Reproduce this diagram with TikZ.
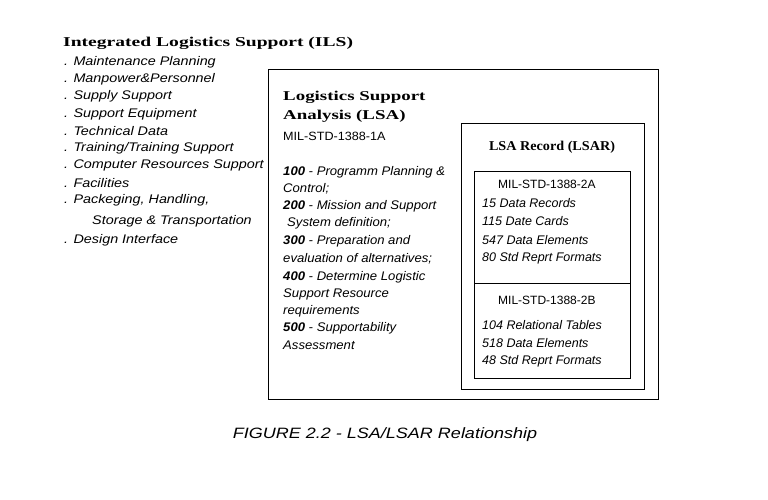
\documentclass[tikz,border=0pt]{standalone}
\usepackage{fontspec}
\usepackage{graphicx}
\setmainfont{Liberation Sans}
\newfontfamily\hd{Liberation Serif}
\newcommand{\sx}[2]{\scalebox{#1}[1]{#2}}
\begin{document}
\begin{tikzpicture}[x=1pt,y=-1pt,
 it/.style={anchor=west,inner sep=0pt,font=\fontsize{12.5}{12}\selectfont\itshape},
 hdr/.style={anchor=west,inner sep=0pt,font=\fontsize{13.5}{13}\selectfont\hd\bfseries},
 mil/.style={anchor=west,inner sep=0pt,font=\fontsize{12}{12}\selectfont},
 box/.style={draw,line width=1pt}]
\useasboundingbox (0,0) rectangle (768,500);
\node[hdr] (ils) at (63,43) {\sx{1.45}{Integrated Logistics Support (ILS)}};
\foreach \t [count=\i] in {Maintenance Planning,Manpower\&Personnel,Supply Support,Support Equipment,Technical Data,Training/Training Support,Computer Resources Support,Facilities,{Packeging, Handling,}}
 \node[it] (l\i) at (64,{62+(\i-1)*17.3}) {\sx{1.15}{. \t}};
\node[it] (l10) at (92,221) {\sx{1.15}{Storage \& Transportation}};
\node[it] (l11) at (64,240) {\sx{1.15}{. Design Interface}};
\draw[box] (268,70) rectangle (658,399);
\node[hdr] (lsa1) at (283,97) {\sx{1.4}{Logistics Support}};
\node[hdr] (lsa2) at (283,116) {\sx{1.4}{Analysis (LSA)}};
\node[mil] (m1) at (283,136) {\sx{1.05}{MIL-STD-1388-1A}};
\node[it] (a1) at (283,172) {\sx{1.05}{\bfseries 100\mdseries\ - Programm Planning \&}};
\node[it] (a2) at (283,189) {\sx{1.05}{Control;}};
\node[it] (a3) at (283,206) {\sx{1.05}{\bfseries 200\mdseries\ - Mission and Support}};
\node[it] (a4) at (287,223) {\sx{1.05}{System definition;}};
\node[it] (a5) at (283,241) {\sx{1.05}{\bfseries 300\mdseries\ - Preparation and}};
\node[it] (a6) at (283,259) {\sx{1.05}{evaluation of alternatives;}};
\node[it] (a7) at (283,277) {\sx{1.05}{\bfseries 400\mdseries\ - Determine Logistic}};
\node[it] (a8) at (283,294) {\sx{1.05}{Support Resource}};
\node[it] (a9) at (283,311) {\sx{1.05}{requirements}};
\node[it] (a10) at (283,328) {\sx{1.05}{\bfseries 500\mdseries\ - Supportability}};
\node[it] (a11) at (283,345) {\sx{1.05}{Assessment}};
\draw[box] (461,124) rectangle (644,389);
\node[hdr,anchor=center] (lsar) at (552,147) {\sx{1.05}{LSA Record (LSAR)}};
\draw[box] (474,171) rectangle (630,378);
\draw[box] (474,283) -- (630,283);
\node[mil] (m2) at (498,184) {MIL-STD-1388-2A};
\node[it] (b1) at (482,203) {15 Data Records};
\node[it] (b2) at (482,221) {115 Date Cards};
\node[it] (b3) at (482,240) {547 Data Elements};
\node[it] (b4) at (482,258) {80 Std Reprt Formats};
\node[mil] (m3) at (498,300) {MIL-STD-1388-2B};
\node[it] (c1) at (482,325) {104 Relational Tables};
\node[it] (c2) at (482,343) {518 Data Elements};
\node[it] (c3) at (482,361) {48 Std Reprt Formats};
\node[anchor=center,inner sep=0pt,font=\fontsize{15}{15}\selectfont\itshape] (cap) at (385,435) {\sx{1.2}{FIGURE 2.2 - LSA/LSAR Relationship}};
\end{tikzpicture}
\end{document}
